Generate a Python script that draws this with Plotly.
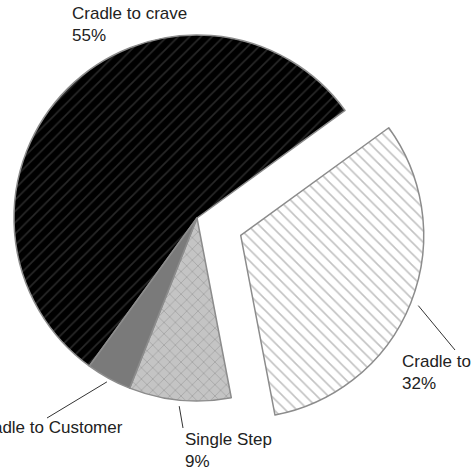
import numpy as np
import plotly.graph_objects as go

# data
labels = ["Cradle to crave", "Cradle to gate", "Single Step", "Cradle to Customer"]
values = [55, 32, 9, 4]
pct_text = ["55%", "32%", "9%", "4%"]

# styles
fill = ["black", "white", "#c4c4c4", "#7a7a7a"]
pat_shape = ["/", "\\", "x", ""]
pat_fg = ["#505050", "#858585", "#858585", "#7a7a7a"]
exploded = 1  # index of the pulled slice

W = H = 474
cx, cy, R = 197, 218, 183          # pie centre / radius in px
pull_px = 47
rotation = 216

# slice mid angles (clockwise from 12 o'clock)
vals = np.array(values, dtype=float)
frac = vals / vals.sum()
start = rotation + 360 * np.concatenate([[0], np.cumsum(frac)[:-1]])
mid = np.radians(start + 180 * frac)

ex_cx = cx + pull_px * np.sin(mid[exploded])
ex_cy = cy - pull_px * np.cos(mid[exploded])


def dom(x0, y0):
    return dict(x=[(x0 - R) / W, (x0 + R) / W],
                y=[1 - (y0 + R) / H, 1 - (y0 - R) / H])


def pie(show, x0, y0):
    clear = "rgba(0,0,0,0)"
    return go.Pie(
        labels=labels, values=values, sort=False, direction="clockwise",
        rotation=rotation, domain=dom(x0, y0), textinfo="none",
        hoverinfo="label+percent", showlegend=False,
        marker=dict(
            colors=[c if s else clear for c, s in zip(fill, show)],
            line=dict(color="#8c8c8c", width=[1.5 if s else 0 for s in show]),
            pattern=dict(shape=[p if s else "" for p, s in zip(pat_shape, show)],
                         fgcolor=pat_fg, size=8, solidity=0.2,
                         fillmode="overlay"),
        ),
    )


show_main = [i != exploded for i in range(len(values))]
show_ex = [i == exploded for i in range(len(values))]

fig = go.Figure([pie(show_main, cx, cy), pie(show_ex, ex_cx, ex_cy)])

# label layout: (text left x, block centre y) in px, leader end point
label_pos = {0: (70, 24), 1: (400, 372), 2: (183, 450), 3: (-27, 438)}
leaders = {1: (455, 350), 2: (183, 428), 3: (47, 418)}
tip_gap = {1: 8, 2: 6, 3: 4}

for i, lab in enumerate(labels):
    x0, y0 = label_pos[i]
    fig.add_annotation(x=x0 / W, y=1 - y0 / H, xref="paper", yref="paper",
                       text=f"{lab}<br>{pct_text[i]}", showarrow=False,
                       xanchor="left", yanchor="middle", align="left",
                       font=dict(family="Liberation Sans, Arial", size=17,
                                 color="#222"))
    if i in leaders:
        ccx, ccy = (ex_cx, ex_cy) if i == exploded else (cx, cy)
        r = R + tip_gap[i]
        tx = ccx + r * np.sin(mid[i])
        ty = ccy - r * np.cos(mid[i])
        ex, ey = leaders[i]
        fig.add_shape(type="line", xref="paper", yref="paper",
                      x0=tx / W, y0=1 - ty / H, x1=ex / W, y1=1 - ey / H,
                      line=dict(color="#333", width=1))

fig.update_layout(width=W, height=H, margin=dict(l=0, r=0, t=0, b=0),
                  paper_bgcolor="white", plot_bgcolor="white")

fig.write_html("out.html", config={"displayModeBar": False},
               post_script="document.body.style.margin='0';")
